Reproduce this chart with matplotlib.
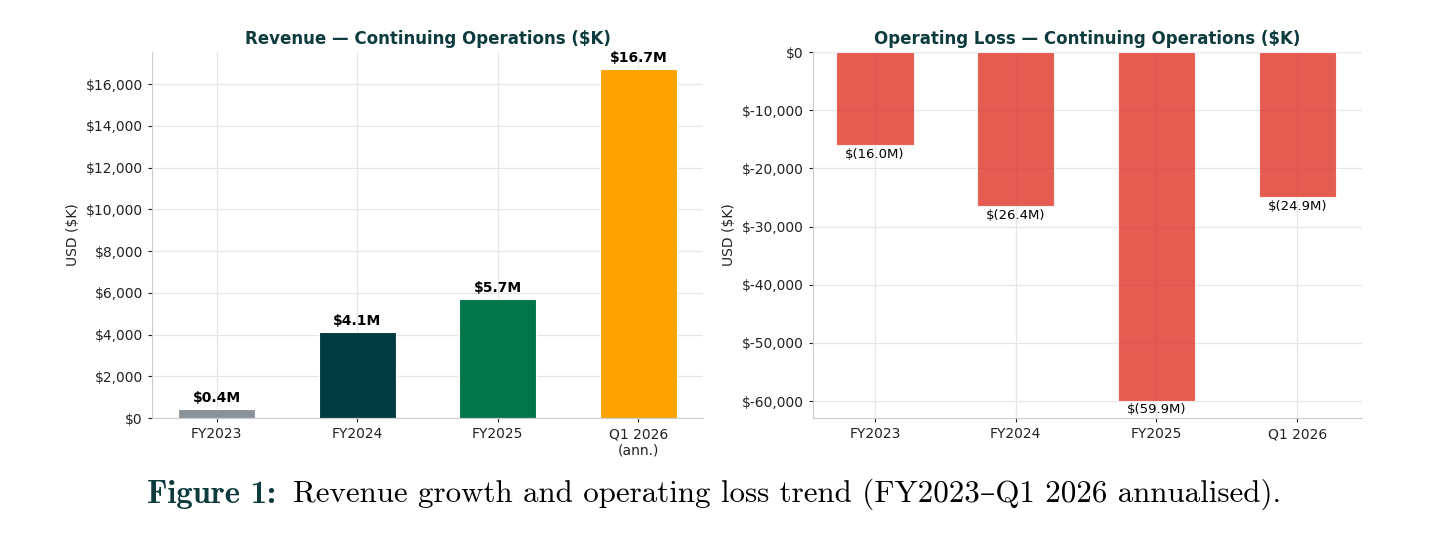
import matplotlib.pyplot as plt
import matplotlib.ticker as mticker

cats_rev = ["FY2023", "FY2024", "FY2025", "Q1 2026\n(ann.)"]
revenue = [420, 4100, 5700, 16700]
rev_labels = ["$0.4M", "$4.1M", "$5.7M", "$16.7M"]
rev_colors = ["#8a9199", "#003b40", "#00754a", "#ffa300"]

cats_loss = ["FY2023", "FY2024", "FY2025", "Q1 2026"]
op_loss = [-16000, -26400, -59900, -24900]
loss_labels = ["$(16.0M)", "$(26.4M)", "$(59.9M)", "$(24.9M)"]

title_col = "#0d3b3e"

fig = plt.figure(figsize=(14.36, 5.36), dpi=100)
ax1 = fig.add_axes([152/1436, 118/536, 551/1436, 366/536])
ax2 = fig.add_axes([813/1436, 118/536, 549/1436, 366/536])

def style(ax):
    ax.spines["top"].set_visible(False)
    ax.spines["right"].set_visible(False)
    for s in ["left", "bottom"]:
        ax.spines[s].set_color("#cccccc")
    ax.grid(True, color="#e6e6e6", linewidth=0.9)
    ax.set_axisbelow(True)
    ax.tick_params(labelsize=10, colors="#222222", length=3)
    ax.set_ylabel("USD ($K)", fontsize=10, color="#222222")

fmt = mticker.FuncFormatter(lambda v, p: "${:,.0f}".format(v))

# revenue
style(ax1)
x1 = range(len(cats_rev))
ax1.bar(x1, revenue, width=0.55, color=rev_colors, edgecolor="white", linewidth=0.8)
for i, v in enumerate(revenue):
    ax1.text(i, v + 200, rev_labels[i], ha="center", va="bottom", fontsize=10, fontweight="bold")
ax1.set_xticks(list(x1))
ax1.set_xticklabels(cats_rev)
ax1.set_xlim(-0.46, 3.46)
ax1.set_ylim(0, max(revenue) * 1.05)
ax1.set_yticks(range(0, 16001, 2000))
ax1.yaxis.set_major_formatter(fmt)
ax1.set_title("Revenue — Continuing Operations ($K)", fontsize=12, fontweight="bold", color=title_col, pad=6)

# operating loss
style(ax2)
x2 = range(len(cats_loss))
ax2.bar(x2, op_loss, width=0.55, color="#e0392b", alpha=0.82, edgecolor="white", linewidth=0.8)
for i, v in enumerate(op_loss):
    ax2.text(i, v - 500, loss_labels[i], ha="center", va="top", fontsize=9.5)
ax2.set_xticks(list(x2))
ax2.set_xticklabels(cats_loss)
ax2.set_xlim(-0.44, 3.46)
ax2.set_ylim(min(op_loss) * 1.05, 0)
ax2.set_yticks(range(-60000, 1, 10000))
ax2.yaxis.set_major_formatter(fmt)
ax2.set_title("Operating Loss — Continuing Operations ($K)", fontsize=12, fontweight="bold", color=title_col, pad=6)

# caption
t1 = fig.text(147/1436, 0.078, "Figure 1:", fontsize=23.5, fontweight="bold", color=title_col,
              family=["cmb10", "DejaVu Serif"], ha="left", va="center")
fig.canvas.draw()
bb = t1.get_window_extent()
fig.text((bb.x1 + 17) / 1436, 0.078,
         "Revenue growth and operating loss trend (FY2023–Q1 2026 annualised).",
         fontsize=22.3, color="black", family=["cmr10", "DejaVu Serif"],
         ha="left", va="center")

fig.savefig("out.png", dpi=100)
